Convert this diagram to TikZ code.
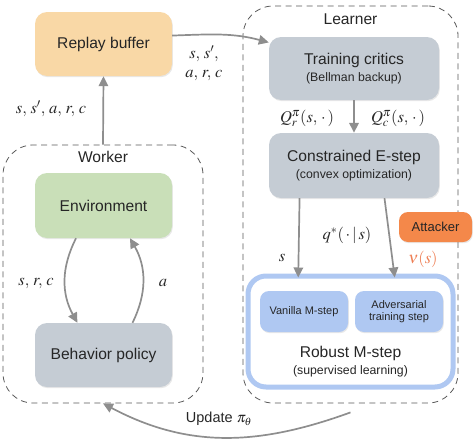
\documentclass[tikz,border=0pt]{standalone}
\usepackage{mathptmx}
\usepackage{fontspec}
\setmainfont{Liberation Sans}
\usetikzlibrary{arrows.meta,shadows}
\definecolor{buffercol}{HTML}{F9D8A6}
\definecolor{envcol}{HTML}{C9DFB8}
\definecolor{stepcol}{HTML}{C5CCD4}
\definecolor{attackcol}{HTML}{F4884A}
\definecolor{nucol}{HTML}{EE7F55}
\definecolor{robustcol}{HTML}{AFC8F2}
\definecolor{arrowgray}{HTML}{8E8E8E}
\newcommand\subtxt{\fontsize{12.3}{14}\selectfont}

\begin{document}
\begin{tikzpicture}[x=1pt, y=-1pt,
  box/.style = {rounded corners=12pt, text=black!85, align=center, inner sep=0pt,
    font=\fontsize{15.6}{18}\selectfont,
    drop shadow={opacity=0.18, shadow xshift=0.8pt, shadow yshift=-1.2pt}},
  minibox/.style = {box, rounded corners=9pt, fill=robustcol,
    minimum width=88pt, minimum height=41pt, font=\fontsize{11}{12.5}\selectfont},
  group/.style = {draw=black!65, dash pattern=on 6pt off 4.5pt, line width=0.8pt,
    rounded corners=30pt, inner sep=0pt},
  arr/.style = {draw=arrowgray, line width=1.7pt, -{Triangle[length=10pt, width=9.5pt]}},
  title/.style = {font=\fontsize{15.6}{18}\selectfont, text=black!85},
  lbl/.style = {font=\fontsize{16.5}{19}\selectfont, text=black!85}]
\useasboundingbox (0,0) rectangle (474,442);

\node[group, minimum width=200pt, minimum height=258pt] (worker) at (103,274) {};
\node[group, minimum width=215pt, minimum height=397pt] (learner) at (350.5,204.5) {};
\node[title] (workertitle) at (103,157) {Worker};
\node[title] (learnertitle) at (350.5,19) {Learner};

\node[box, fill=buffercol, minimum width=137pt, minimum height=64pt] (replay) at (103.5,44) {Replay buffer};
\node[box, fill=envcol, minimum width=137pt, minimum height=65pt] (env) at (103.5,205.5) {Environment};
\node[box, fill=stepcol, minimum width=137pt, minimum height=64pt] (behav) at (103.5,355) {Behavior policy};

\node[box, fill=stepcol, minimum width=170pt, minimum height=63pt] (critics) at (354,68.5)
  {Training critics\\[-1pt]{\subtxt (Bellman backup)}};
\node[box, fill=stepcol, minimum width=170pt, minimum height=65pt] (estep) at (354,165.5)
  {Constrained E-step\\[-1pt]{\subtxt (convex optimization)}};

\node[box, fill=attackcol, rounded corners=9pt, minimum width=73pt, minimum height=30pt,
  font=\fontsize{13}{15}\selectfont] (attacker) at (435.5,227) {Attacker};

\node[draw=robustcol, line width=5pt, fill=white, rounded corners=18pt,
  minimum width=205pt, minimum height=111pt] (robust) at (350.5,331.5) {};
\node[minibox] (vanilla) at (304,311.5) {Vanilla M-step};
\node[minibox] (adv) at (399,311.5) {Adversarial\\training step};
\node[title, align=center] (robusttxt) at (350.5,362) {Robust M-step\\[-1pt]{\subtxt (supervised learning)}};

\draw[arr] (worker.north) -- (replay.south);
\draw[arr] (replay.7) to[out=2, in=165] (critics.163);
\draw[arr] (env.230) to[bend right=28] (behav.129);
\draw[arr] (behav.48) to[bend right=28] (env.309);
\draw[arr] (critics.south) -- (estep.north);
\draw[arr, shorten >=-4pt] (estep.211.5) -- (robust.132);
\draw[arr, shorten >=-4pt] (estep.313) -- (robust.53);
\draw[arr] ([yshift=-9pt]learner.south) to[out=200, in=332] (worker.south);

\node[lbl] (buflbl) at (51,109) {$s,\,s',\,a,\,r,\,c$};
\node[lbl, align=center] (sampled) at (204,63) {$s,\,s',$\\$a,\,r,\,c$};
\node[lbl] (srclbl) at (36,283) {$s,\,r,\,c$};
\node[lbl] (alb) at (163,283) {$a$};
\node[lbl] (qrlbl) at (307,118) {$Q_r^{\pi}(s,\,\cdot\,)$};
\node[lbl] (qclbl) at (398,118) {$Q_c^{\pi}(s,\,\cdot\,)$};
\node[lbl] (slbl) at (282,258) {$s$};
\node[lbl] (qstar) at (347,235) {$q^{*}(\,\cdot\,|\,s)$};
\node[lbl, text=nucol] (nulbl) at (423,259) {$\nu(s)$};
\node[lbl, font=\fontsize{14.5}{17}\selectfont] (update) at (219,419) {Update $\pi_\theta$};
\end{tikzpicture}
\end{document}
